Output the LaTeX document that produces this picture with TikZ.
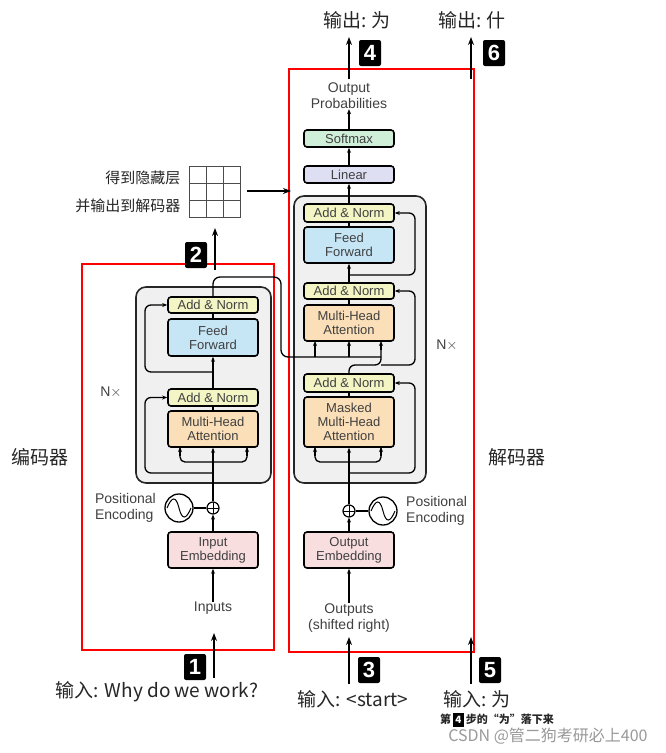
\documentclass[tikz,border=0pt]{standalone}
\usepackage{fontspec}
\setmainfont{Liberation Sans}
\newfontfamily\cjk{Noto Sans CJK SC}
\usetikzlibrary{arrows.meta,positioning}
\definecolor{anorm}{HTML}{F3F5C4}
\definecolor{ffc}{HTML}{C6E6F6}
\definecolor{mhac}{HTML}{FBDFB8}
\definecolor{embc}{HTML}{F9DEE0}
\definecolor{smc}{HTML}{CFEFD9}
\definecolor{linc}{HTML}{DEDFF2}
\definecolor{grayb}{HTML}{F0F0F0}
\begin{document}
\begin{tikzpicture}[x=1pt,y=-1pt,
  blk/.style={draw=black,line width=1.6pt,rounded corners=3pt,inner sep=0pt,align=center,font=\fontsize{13}{14}\selectfont,text=black!75},
  wire/.style={line width=1.3pt},
  arr/.style={line width=1.3pt,-{Stealth[length=5pt,width=4pt]}},
  big/.style={line width=1.5pt,-{Stealth[length=8pt,width=6pt]}},
  badge/.style={fill=black,rounded corners=2pt,text=white,font=\fontsize{22}{22}\selectfont\bfseries,minimum width=22pt,minimum height=26pt,inner sep=0pt},
  zh/.style={font=\cjk\fontsize{19}{21}\selectfont,text=black!85},
  red/.style={draw=red,line width=1.3pt},
  gbox/.style={draw=black!85,fill=grayb,line width=1.6pt,rounded corners=10pt},
  lab/.style={font=\fontsize{14}{16}\selectfont,text=black!75,align=center,inner sep=0pt}]
\useasboundingbox[fill=white] (0,0) rectangle (665,753);
% red frames
\draw[red] (82,264) rectangle (274,650);
\draw[red] (289,69) rectangle (474,652);
% gray blocks
\draw[gbox] (136,287) rectangle (271,483);
\draw[gbox] (294,196) rectangle (426,483);
% encoder boxes
\node[blk,fill=embc,minimum width=90pt,minimum height=36pt] (ie) at (213,550) {Input\\Embedding};
\node[blk,fill=mhac,minimum width=90pt,minimum height=36pt] (emha) at (213,429) {Multi-Head\\Attention};
\node[blk,fill=anorm,minimum width=90pt,minimum height=17pt] (ean1) at (213,397.5) {Add \& Norm};
\node[blk,fill=ffc,minimum width=90pt,minimum height=37pt] (eff) at (213,337.5) {Feed\\Forward};
\node[blk,fill=anorm,minimum width=90pt,minimum height=16pt] (ean2) at (213,305) {Add \& Norm};
% decoder boxes
\node[blk,fill=embc,minimum width=90pt,minimum height=36pt] (oe) at (349,550) {Output\\Embedding};
\node[blk,fill=mhac,minimum width=90pt,minimum height=50pt] (dmm) at (349,422) {Masked\\Multi-Head\\Attention};
\node[blk,fill=anorm,minimum width=90pt,minimum height=18pt] (dan1) at (349,383) {Add \& Norm};
\node[blk,fill=mhac,minimum width=90pt,minimum height=36pt] (dmha) at (349,323) {Multi-Head\\Attention};
\node[blk,fill=anorm,minimum width=90pt,minimum height=16pt] (dan2) at (349,291) {Add \& Norm};
\node[blk,fill=ffc,minimum width=90pt,minimum height=36pt] (dff) at (349,245) {Feed\\Forward};
\node[blk,fill=anorm,minimum width=90pt,minimum height=18pt] (dan3) at (349,213) {Add \& Norm};
\node[blk,fill=linc,minimum width=90pt,minimum height=17pt] (lin) at (349,174.5) {Linear};
\node[blk,fill=smc,minimum width=90pt,minimum height=17pt] (sm) at (349,138.5) {Softmax};
\node[lab] (op) at (349,96) {Output\\Probabilities};
% labels
\node[lab] (inp) at (213,608) {Inputs};
\node[lab] (outp) at (349,618) {Outputs\\(shifted right)};
\node[lab] (nx1) at (111,392) {N$\times$};
\node[lab] (nx2) at (447,345) {N$\times$};
\node[lab,align=left,anchor=east] (pe1) at (156,508) {Positional\\Encoding};
\node[lab,align=left,anchor=west] (pe2) at (406,511) {Positional\\Encoding};
% positional encoding symbols
\node[draw,line width=1.3pt,circle,minimum size=28pt,inner sep=0pt] (s1) at (179,508) {};
\draw[line width=1pt] (167,508) .. controls (172,496) and (176,496) .. (179,508) .. controls (182,520) and (186,520) .. (191,508);
\node[draw,line width=1.2pt,circle,minimum size=12pt,inner sep=0pt] (p1) at (213,508) {};
\draw[line width=1pt] (207,508) -- (219,508) (213,502) -- (213,514);
\draw[wire] (s1) -- (p1);
\node[draw,line width=1.3pt,circle,minimum size=28pt,inner sep=0pt] (s2) at (383,511) {};
\draw[line width=1pt] (371,511) .. controls (376,499) and (380,499) .. (383,511) .. controls (386,523) and (390,523) .. (395,511);
\node[draw,line width=1.2pt,circle,minimum size=12pt,inner sep=0pt] (p2) at (349,511) {};
\draw[line width=1pt] (343,511) -- (355,511) (349,505) -- (349,517);
\draw[wire] (s2) -- (p2);
% encoder flow
\draw[arr] (inp.north) -- (ie.south);
\draw[arr] (ie.north) -- (p1.south);
\draw[arr] (p1.north) -- (emha.south);
\draw[wire,rounded corners=5pt] (180,447) -- (180,462) -- (247,462) -- (247,447);
\draw[arr] (180,456) -- (180,447);
\draw[arr] (247,456) -- (247,447);
\draw[arr,rounded corners=6pt] (213,473) -- (145,473) -- (145,397.5) -- (ean1.west);
\draw[arr] (ean1.north) -- (eff.south);
\draw[arr,rounded corners=6pt] (213,372) -- (145,372) -- (145,305) -- (ean2.west);
\draw[wire] (emha.north) -- (ean1.south);
\draw[wire] (eff.north) -- (ean2.south);
% encoder output to decoder
\draw[wire,rounded corners=7pt] (ean2.north) -- (213,277) -- (281,277) -- (281,357) -- (381,357);
\draw[arr] (315,357) -- (315,341);
\draw[arr] (349,357) -- (349,341);
% decoder flow
\draw[arr] (outp.north) -- (oe.south);
\draw[arr] (oe.north) -- (p2.south);
\draw[arr] (p2.north) -- (dmm.south);
\draw[wire,rounded corners=5pt] (315,447) -- (315,462) -- (381,462) -- (381,447);
\draw[arr] (315,456) -- (315,447);
\draw[arr] (381,456) -- (381,447);
\draw[arr,rounded corners=6pt] (349,473) -- (415,473) -- (415,383) -- (dan1.east);
\draw[wire] (dmm.north) -- (dan1.south);
\draw[wire,rounded corners=6pt] (dan1.north) -- (349,365) -- (381,365) -- (381,350);
\draw[arr] (381,350) -- (381,341);
\draw[arr,rounded corners=6pt] (381,365) -- (415,365) -- (415,291) -- (dan2.east);
\draw[wire] (dmha.north) -- (dan2.south);
\draw[arr] (dan2.north) -- (dff.south);
\draw[arr,rounded corners=6pt] (349,275) -- (415,275) -- (415,213) -- (dan3.east);
\draw[wire] (dff.north) -- (dan3.south);
\draw[arr] (dan3.north) -- (lin.south);
\draw[arr] (lin.north) -- (sm.south);
\draw[arr] (sm.north) -- (op.south);
% hidden grid
\draw[line width=0.8pt,black!70] (189,166) rectangle (240,217)
  (206,166) -- (206,217) (223,166) -- (223,217)
  (189,183) -- (240,183) (189,200) -- (240,200);
\node[zh,anchor=east,font=\cjk\fontsize{15}{17}\selectfont] (h1) at (184,178) {得到隐藏层};
\node[zh,anchor=east,font=\cjk\fontsize{15}{17}\selectfont] (h2) at (184,206) {并输出到解码器};
\coordinate (ga) at (247,191);
\coordinate (gb) at (291,191);
\draw[big] (ga) -- (gb);
% step arrows and badges
\coordinate (a2s) at (215,270); \coordinate (a2e) at (215,228);
\draw[big] (a2s) -- (a2e);
\node[badge] (b2) at (196,255) {2};
\coordinate (a1s) at (214,678); \coordinate (a1e) at (214,633);
\draw[big] (a1s) -- (a1e);
\node[badge] (b1) at (195,667) {1};
\coordinate (a3s) at (349,684); \coordinate (a3e) at (349,637);
\draw[big] (a3s) -- (a3e);
\node[badge] (b3) at (369,670) {3};
\coordinate (a5s) at (471,684); \coordinate (a5e) at (471,637);
\draw[big] (a5s) -- (a5e);
\node[badge] (b5) at (490,670) {5};
\coordinate (a4s) at (349,79); \coordinate (a4e) at (349,37);
\draw[big] (a4s) -- (a4e);
\node[badge] (b4) at (370,53) {4};
\coordinate (a6s) at (471,79); \coordinate (a6e) at (471,37);
\draw[big] (a6s) -- (a6e);
\node[badge] (b6) at (494,53) {6};
% chinese labels
\node[zh] (o1) at (357,20) {输出: 为};
\node[zh] (o2) at (472,20) {输出: 什};
\node[zh] (enc) at (40,457) {编码器};
\node[zh] (dec) at (517,457) {解码器};
\node[zh] (i1) at (157,692) {输入: Why do we work?};
\node[zh] (i3) at (353,699) {输入: <start>};
\node[zh] (i5) at (477,699) {输入: 为};
\node[font=\cjk\fontsize{11}{12}\selectfont\bfseries,text=black!85,inner sep=0pt] (n5) at (497,720) {第\,\colorbox{black}{\makebox[5pt]{\textcolor{white}{\bfseries\fontsize{10}{10}\selectfont 4}}}\,步的“为”落下来};
\node[font=\cjk\fontsize{16}{18}\selectfont,text=black!40,inner sep=0pt] (wm) at (548,736) {CSDN @管二狗考研必上400};
\end{tikzpicture}
\end{document}
